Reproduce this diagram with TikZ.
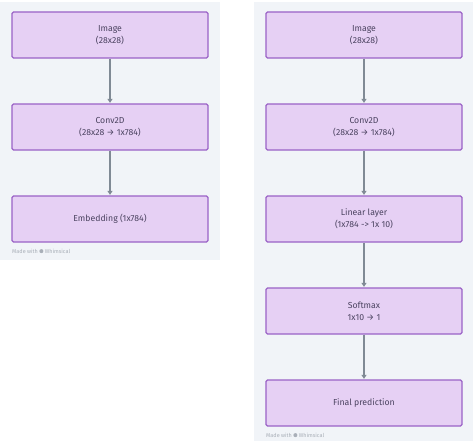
\documentclass[tikz,border=0pt]{standalone}
\usepackage{fontspec}
\setmainfont{Fira Sans}
\usetikzlibrary{arrows.meta}
\definecolor{panelbg}{HTML}{F1F4F8}
\definecolor{boxfill}{HTML}{E6D0F4}
\definecolor{boxedge}{HTML}{9A62C6}
\definecolor{arrowc}{HTML}{808A95}
\definecolor{txt}{HTML}{4B4360}
\definecolor{foot}{HTML}{A9AFB8}
\tikzset{
  panel/.style={fill=panelbg, draw=none},
  stage/.style={draw=boxedge, fill=boxfill, line width=1.3pt, rounded corners=1.5pt,
    minimum width=196pt, minimum height=46pt, inner sep=0pt, text=txt,
    font=\fontsize{8.7}{12.3}\selectfont, align=center},
  flow/.style={draw=arrowc, line width=1.6pt, -{Triangle[length=4pt,width=5pt]}, shorten >=0.5pt},
  foottext/.style={text=foot, font=\fontsize{5.5}{6}\selectfont, anchor=west, inner sep=0pt}
}
\begin{document}
\begin{tikzpicture}[x=1pt,y=-1pt]
\useasboundingbox (0,0) rectangle (474,444);
\fill[white] (0,0) rectangle (474,444);
\path[panel] (0,2) rectangle (220,260);
\path[panel] (254,2) rectangle (473,441);
% left column
\node[stage] (l1) at (110,35) {Image\\(28x28)};
\node[stage] (l2) at (110,127) {Conv2D\\(28x28 → 1x784)};
\node[stage] (l3) at (110,219) {Embedding (1x784)};
\draw[flow] (l1) -- (l2);
\draw[flow] (l2) -- (l3);
\node[foottext] (lf) at (12,251) {Made with \tikz[baseline=-2pt]{\fill[foot] (0,0) circle (2pt);} Whimsical};
% right column
\node[stage] (r1) at (364,35) {Image\\(28x28)};
\node[stage] (r2) at (364,127) {Conv2D\\(28x28 → 1x784)};
\node[stage] (r3) at (364,219) {Linear layer\\(1x784 -> 1x 10)};
\node[stage] (r4) at (364,311) {Softmax\\1x10 → 1};
\node[stage] (r5) at (364,403) {Final prediction};
\draw[flow] (r1) -- (r2);
\draw[flow] (r2) -- (r3);
\draw[flow] (r3) -- (r4);
\draw[flow] (r4) -- (r5);
\node[foottext] (rf) at (266,435) {Made with \tikz[baseline=-2pt]{\fill[foot] (0,0) circle (2pt);} Whimsical};
\end{tikzpicture}
\end{document}
